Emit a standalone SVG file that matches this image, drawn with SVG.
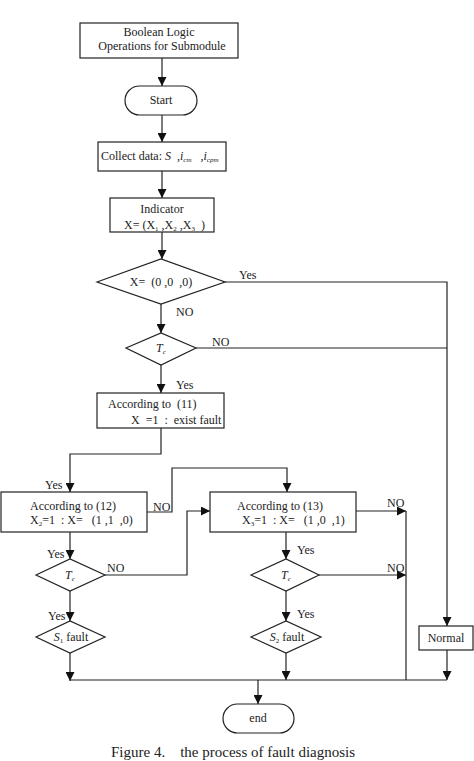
<svg xmlns="http://www.w3.org/2000/svg" width="474" height="761" viewBox="0 0 474 761" font-family="'Liberation Serif', 'Times New Roman', 'DejaVu Serif', serif">
<style>
.n{fill:#fff;stroke:#222;stroke-width:1.2}
.c{fill:none;stroke:#222;stroke-width:1.2}
text{font-family:'Liberation Serif','Times New Roman','DejaVu Serif',serif;font-size:12px;fill:#222;white-space:pre}
.m{text-anchor:middle}
.i{font-style:italic}
.s{font-size:7px}
</style>
<defs>
<marker id="a" viewBox="0 0 10 10" refX="10" refY="5" markerWidth="9" markerHeight="9" markerUnits="userSpaceOnUse" orient="auto">
<path d="M0,0 L10,5 L0,10 z" fill="#111"/>
</marker>
</defs>
<rect width="474" height="761" fill="#fff"/>
<g id="connectors">
<path class="c" d="M162,58 V86" marker-end="url(#a)"/>
<path class="c" d="M162,115 V142" marker-end="url(#a)"/>
<path class="c" d="M162,171 V198" marker-end="url(#a)"/>
<path class="c" d="M162,232 V259" marker-end="url(#a)"/>
<path class="c" d="M161,304 V333" marker-end="url(#a)"/>
<path class="c" d="M225,282 H447 V626" marker-end="url(#a)"/>
<path class="c" d="M196,348 H447"/>
<path class="c" d="M161,365 V393" marker-end="url(#a)"/>
<path class="c" d="M161,428 V454 H70 V492" marker-end="url(#a)"/>
<path class="c" d="M147,512 H172 V468 H287 V492" marker-end="url(#a)"/>
<path class="c" d="M70,532 V559" marker-end="url(#a)"/>
<path class="c" d="M105,575 H187 V511 H210" marker-end="url(#a)"/>
<path class="c" d="M286,532 V559" marker-end="url(#a)"/>
<path class="c" d="M356,511 H406" marker-end="url(#a)"/>
<path class="c" d="M319,575 H406" marker-end="url(#a)"/>
<path class="c" d="M406,511 V680"/>
<path class="c" d="M70,591 V621" marker-end="url(#a)"/>
<path class="c" d="M286,591 V621" marker-end="url(#a)"/>
<path class="c" d="M70,653 V681" marker-end="url(#a)"/>
<path class="c" d="M286,653 V680" marker-end="url(#a)"/>
<path class="c" d="M447,650 V680" marker-end="url(#a)"/>
<path class="c" d="M70,680 H447"/>
<path class="c" d="M258,680 V704" marker-end="url(#a)"/>
<text x="239" y="279">Yes</text>
<text x="176" y="316">NO</text>
<text x="212" y="346">NO</text>
<text x="176" y="389">Yes</text>
<text x="45" y="489">Yes</text>
<text x="153" y="511">NO</text>
<text x="47" y="558">Yes</text>
<text x="107" y="572">NO</text>
<text x="297" y="554">Yes</text>
<text x="387" y="507">NO</text>
<text x="387" y="572">NO</text>
<text x="48" y="620">Yes</text>
<text x="297" y="618">Yes</text>
</g>
<g id="boolean">
<rect class="n" x="80" y="23" width="158" height="35"/>
<text class="m" x="159" y="36">Boolean Logic</text>
<text class="m" x="162" y="50">Operations for Submodule</text>
</g>
<g id="start">
<rect class="n" x="125" y="86" width="72" height="29" rx="14.5"/>
<text class="m" x="161" y="104">Start</text>
</g>
<g id="collect">
<rect class="n" x="98" y="142" width="128" height="29"/>
<text x="101" y="160">Collect data:<tspan class="i"> S </tspan> ,<tspan class="i">i<tspan class="s" dy="2">cm</tspan></tspan><tspan dy="-2">   ,</tspan><tspan class="i">i<tspan class="s" dy="2">cpm</tspan></tspan></text>
</g>
<g id="indicator">
<rect class="n" x="110" y="198" width="104" height="34"/>
<text class="m" x="162" y="213">Indicator</text>
<text x="124" y="229">X= (X<tspan class="s" dy="2">1</tspan><tspan dy="-2"> ,X</tspan><tspan class="s" dy="2">2</tspan><tspan dy="-2"> ,X</tspan><tspan class="s" dy="2">3</tspan><tspan dy="-2">  )</tspan></text>
</g>
<g id="check0">
<polygon class="n" points="97,282 161,259 225,282 161,304"/>
<text class="m" x="161" y="286">X=  (0 ,0  ,0)</text>
</g>
<g id="tc1">
<polygon class="n" points="126,348 161,333 196,348 161,365"/>
<text class="m i" x="161" y="352">T<tspan class="s" dy="2">c</tspan></text>
</g>
<g id="rule11">
<rect class="n" x="97" y="393" width="127" height="35"/>
<text x="108" y="408">According to  (11)</text>
<text x="131" y="424">X  =1  :  exist fault</text>
</g>
<g id="rule12">
<rect class="n" x="1" y="492" width="146" height="40"/>
<text x="30" y="510">According to (12)</text>
<text x="30" y="524">X<tspan class="s" dy="2">2</tspan><tspan dy="-2">=1  : X=   (1 ,1  ,0)</tspan></text>
</g>
<g id="rule13">
<rect class="n" x="210" y="492" width="146" height="40"/>
<text x="237" y="510">According to (13)</text>
<text x="242" y="524">X<tspan class="s" dy="2">3</tspan><tspan dy="-2">=1  : X=   (1 ,0  ,1)</tspan></text>
</g>
<g id="tc2">
<polygon class="n" points="36,575 70,559 105,575 70,591"/>
<text class="m i" x="70" y="579">T<tspan class="s" dy="2">c</tspan></text>
</g>
<g id="tc3">
<polygon class="n" points="251,575 286,559 319,575 286,591"/>
<text class="m i" x="286" y="579">T<tspan class="s" dy="2">c</tspan></text>
</g>
<g id="s1fault">
<polygon class="n" points="36,637 70,621 105,637 70,653"/>
<text class="m" x="71" y="641"><tspan class="i">S</tspan><tspan class="s" dy="2">1</tspan><tspan dy="-2"> fault</tspan></text>
</g>
<g id="s2fault">
<polygon class="n" points="251,637 286,621 321,637 286,653"/>
<text class="m" x="287" y="641"><tspan class="i">S</tspan><tspan class="s" dy="2">2</tspan><tspan dy="-2"> fault</tspan></text>
</g>
<g id="normal">
<rect class="n" x="419" y="626" width="54" height="24"/>
<text class="m" x="446" y="642">Normal</text>
</g>
<g id="end">
<rect class="n" x="223" y="704" width="71" height="29" rx="14.5"/>
<text class="m" x="258" y="722">end</text>
</g>
<text x="111" y="757" style="font-size:15px">Figure 4.    the process of fault diagnosis</text>
</svg>
